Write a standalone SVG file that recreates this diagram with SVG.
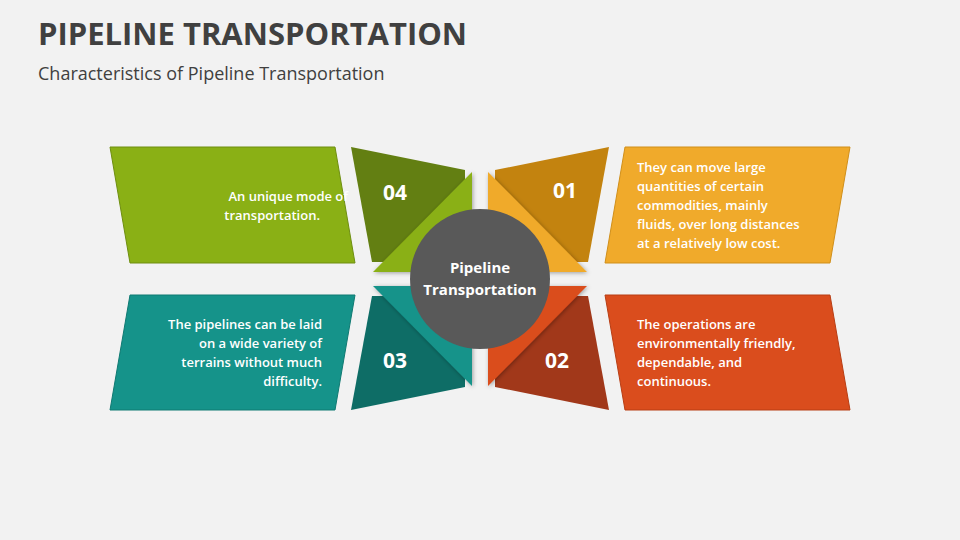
<svg xmlns="http://www.w3.org/2000/svg" width="960" height="540" viewBox="0 0 960 540">
<defs>
<style>
.t{font-family:"Open Sans","Liberation Sans",sans-serif;font-size:13px;font-weight:600;fill:#fff}
.n{font-family:"Open Sans","Liberation Sans",sans-serif;font-size:21px;font-weight:700;fill:#fff;text-anchor:middle}
</style>
<filter id="sh" x="-20%" y="-20%" width="140%" height="140%"><feDropShadow dx="1" dy="1" stdDeviation="2" flood-opacity="0.35"/></filter>
</defs>
<rect width="960" height="540" fill="#F2F2F2"/>
<text x="38" y="45" font-family="Open Sans,Liberation Sans,sans-serif" font-size="31" font-weight="700" fill="#404040">PIPELINE TRANSPORTATION</text>
<text x="38" y="80" font-family="Open Sans,Liberation Sans,sans-serif" font-size="18" fill="#404040">Characteristics of Pipeline Transportation</text>
<g id="node04">
<polygon points="110,147 335,147 355,263 130,263" fill="#8AB015" stroke="#6E8E10"/>
<text class="t" text-anchor="end"><tspan x="348" y="201">An unique mode of</tspan><tspan x="320" y="220">transportation.</tspan></text>
<polygon points="351,147 465,170 465,262 372,262" fill="#637F12"/>
<polygon points="472,172 472,272 373,272" fill="#8AB015" filter="url(#sh)"/>
<text class="n" x="395" y="200">04</text>
</g>
<g id="node01">
<polygon points="625,147 850,147 830,263 605,263" fill="#F0AA2B" stroke="#D08F1A"/>
<text class="t"><tspan x="637" y="172">They can move large</tspan><tspan x="637" y="191">quantities of certain</tspan><tspan x="637" y="210">commodities, mainly</tspan><tspan x="637" y="229">fluids, over long distances</tspan><tspan x="637" y="248">at a relatively low cost.</tspan></text>
<polygon points="609,147 495,170 495,262 588,262" fill="#C3830F"/>
<polygon points="488,172 488,272 587,272" fill="#F0AA2B" filter="url(#sh)"/>
<text class="n" x="565" y="198">01</text>
</g>
<g id="node03">
<polygon points="130,295 355,295 335,410 110,410" fill="#15938A" stroke="#0F7A72"/>
<text class="t" text-anchor="end"><tspan x="322" y="329">The pipelines can be laid</tspan><tspan x="322" y="348">on a wide variety of</tspan><tspan x="322" y="367">terrains without much</tspan><tspan x="322" y="386">difficulty.</tspan></text>
<polygon points="351,410 465,387 465,296 372,296" fill="#0E6D66"/>
<polygon points="472,386 472,286 373,286" fill="#15938A" filter="url(#sh)"/>
<text class="n" x="395" y="368">03</text>
</g>
<g id="node02">
<polygon points="605,295 830,295 850,410 625,410" fill="#DA4D1D" stroke="#B83E14"/>
<text class="t"><tspan x="637" y="329">The operations are</tspan><tspan x="637" y="348">environmentally friendly,</tspan><tspan x="637" y="367">dependable, and</tspan><tspan x="637" y="386">continuous.</tspan></text>
<polygon points="609,410 495,387 495,296 588,296" fill="#A1381A"/>
<polygon points="488,386 488,286 587,286" fill="#DA4D1D" filter="url(#sh)"/>
<text class="n" x="557" y="368">02</text>
</g>
<g id="center">
<circle cx="480" cy="279" r="70" fill="#595959"/>
<text class="t" text-anchor="middle" font-size="15" style="font-size:15px;font-weight:700"><tspan x="480" y="273">Pipeline</tspan><tspan x="480" y="295">Transportation</tspan></text>
</g>
<g id="connectors"/>
</svg>
